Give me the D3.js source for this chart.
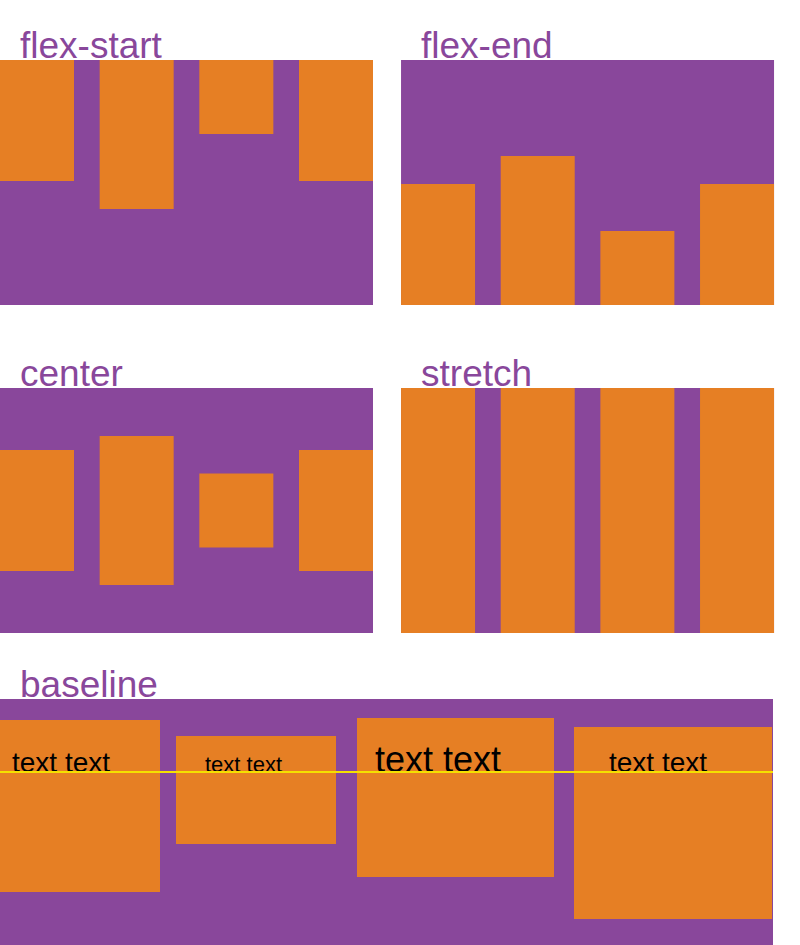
<!DOCTYPE html>
<html><head><meta charset="utf-8">
<script src="https://cdn.jsdelivr.net/npm/d3@7"></script>
<style>body{margin:0;background:#fff}svg{display:block}</style>
</head><body>
<div id="chart"></div>
<script>
var panelNames = ["flex-start", "flex-end", "center", "stretch"];
var boxHeights = [121, 149, 74, 121];
var baseWidths = [160, 160, 197, 198];
var baseHeights = [172, 108, 159, 192];
var baseAscent = [52, 36, 54, 45];   // distance from box top to text baseline
var baseFont = [28, 22, 36, 28];
var baseTextX = [12, 29, 18, 35];
var baseGaps = [0, 16, 21, 20];
var baseLabel = "text text";

var purple = "#89479b", orange = "#e67f24";
var svg = d3.select("#chart").append("svg").attr("width", 800).attr("height", 945);

var panelW = 373, panelH = 245;
var px = d3.scaleBand().domain([0, 1]).range([0, 773]).paddingInner(0.0725);
var py = d3.scaleOrdinal().domain([0, 1]).range([60, 388]);
var bx = d3.scaleBand().domain(d3.range(4)).range([0, panelW]).paddingInner(0.2575);
var hy = d3.scaleLinear().domain([0, panelH]).range([0, panelH]);

panelNames.forEach(function (name, i) {
  var col = i % 2, row = Math.floor(i / 2);
  var g = svg.append("g").attr("transform", "translate(" + px(col) + "," + py(row) + ")");
  g.append("rect").attr("width", panelW).attr("height", panelH).attr("fill", purple);
  g.selectAll(".box").data(boxHeights).enter().append("rect")
    .attr("x", function (d, j) { return bx(j); })
    .attr("width", bx.bandwidth())
    .attr("y", function (d) {
      if (name == "flex-start" || name == "stretch") return 0;
      if (name == "flex-end") return hy(panelH - d);
      return hy((panelH - d) / 2);
    })
    .attr("height", function (d) { return name == "stretch" ? panelH : hy(d); })
    .attr("fill", orange);
  g.append("text").attr("x", 20).attr("y", 0).attr("dy", -2).text(name)
    .attr("font-family", "Liberation Sans, Arial, sans-serif").attr("font-size", 37).attr("fill", purple);
});

// baseline panel
var bg = svg.append("g").attr("transform", "translate(0,699)");
bg.append("rect").attr("width", 773).attr("height", 246).attr("fill", purple);
var lineY = 73;
var maxAsc = d3.max(baseAscent);
var xs = [];
var acc = 0;
baseWidths.forEach(function (w, i) { acc += baseGaps[i]; xs.push(acc); acc += w; });
var items = bg.selectAll(".item").data(baseWidths).enter().append("g")
  .attr("transform", function (d, i) { return "translate(" + xs[i] + "," + (lineY - baseAscent[i]) + ")"; });
items.append("rect").attr("width", function (d) { return d; })
  .attr("height", function (d, i) { return baseHeights[i]; }).attr("fill", orange);
items.append("text").attr("x", function (d, i) { return baseTextX[i]; })
  .attr("y", function (d, i) { return baseAscent[i]; })
  .attr("font-size", function (d, i) { return baseFont[i]; })
  .attr("font-family", "Liberation Sans, Arial, sans-serif").attr("fill", "#000").text(baseLabel);
bg.append("line").attr("x1", 0).attr("x2", 773).attr("y1", lineY).attr("y2", lineY)
  .attr("stroke", "#f5e000").attr("stroke-width", 2);
bg.append("text").attr("x", 20).attr("y", 0).attr("dy", -2).text("baseline")
  .attr("font-family", "Liberation Sans, Arial, sans-serif").attr("font-size", 37).attr("fill", purple);
</script>
</body></html>
